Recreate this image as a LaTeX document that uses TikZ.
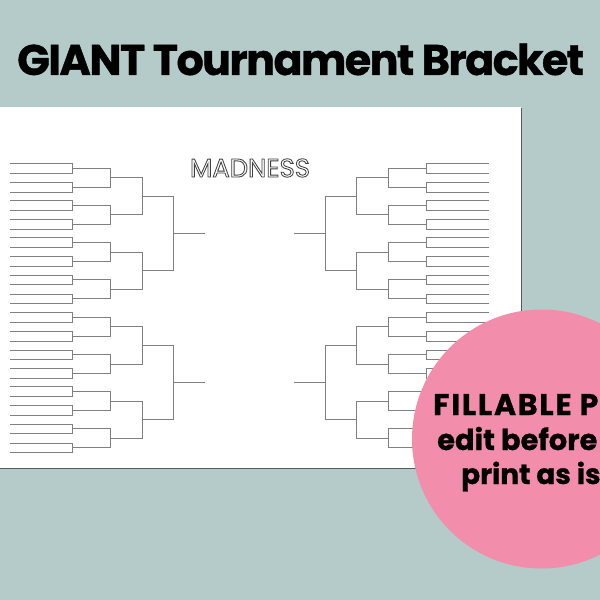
\documentclass[tikz,border=0pt]{standalone}
\usepackage{fontspec}
\setmainfont{Poppins}
\newfontfamily\heavyfont[UprightFont=* Bold,FakeBold=0.9]{Poppins}
\usetikzlibrary{calc}
\definecolor{pagebg}{HTML}{B4CBCA}
\definecolor{badge}{HTML}{F28DAB}
\definecolor{rule}{HTML}{808080}
\newcommand{\outlined}[1]{\special{pdf:code q 1 Tr 0.85 w}#1\special{pdf:code Q}}
\tikzset{
    line/.style={draw=rule, line width=0.8pt},
    title/.style={font=\fontsize{43}{43}\heavyfont, inner sep=0pt, anchor=base west},
    badgetext/.style={font=\fontsize{29}{29}\heavyfont, inner sep=0pt, anchor=base west}
}
\begin{document}
\begin{tikzpicture}[x=1bp,y=-1bp]
    \path[use as bounding box, fill=pagebg] (0,0) rectangle (600,600);
    \clip (0,0) rectangle (600,600);
    \coordinate (sheetA) at (-3,107);
    \coordinate (sheetB) at (521,468);
    \fill[black!55!pagebg] ($(sheetA)+(1,1)$) rectangle ($(sheetB)+(1,1)$);
    \fill[white] (sheetA) rectangle (sheetB);

    \node[title] (heading) at (17,75) {\addfontfeature{LetterSpace=-3.7}GIANT Tournament Bracket};
    \node[inner sep=0pt, font=\fontsize{26}{26}\selectfont, text=black!75] (word) at (250,168) {\outlined{MADNESS}};

    % both sides, columns from the outside in
    \foreach \s/\xa/\xb/\xc/\xd/\xe/\xf in {L/10/72/110.5/142/173.5/204.5, R/488.7/426.3/388.3/356.7/325.3/294}{
        \foreach \k/\a/\b in {1/163.3/173.2,2/182.3/192,3/200.5/210,4/219.5/229,
                              5/237.7/247.3,6/256.7/266.3,7/275/284.3,8/294/303.3,
                              9/312.3/322,10/331.3/341,11/350/359.7,12/368.3/378,
                              13/386.7/396.3,14/405.7/415.3,15/424/433.3,16/443/452.3}{
            \draw[line] (\xa,\a) -- (\xb,\a) -- (\xb,\b) -- (\xa,\b);
            \coordinate (\s a\k) at (\xb,{(\a+\b)/2});
        }
        % second round
        \foreach \k [evaluate=\k as \i using int(2*\k-1), evaluate=\k as \j using int(2*\k)] in {1,...,8}{
            \draw[line] (\s a\i) -- (\s a\i -| \xc,0) -- (\s a\j -| \xc,0) -- (\s a\j);
            \coordinate (\s b\k) at ($(\s a\i -| \xc,0)!.5!(\s a\j -| \xc,0)$);
        }
        % third round
        \foreach \k [evaluate=\k as \i using int(2*\k-1), evaluate=\k as \j using int(2*\k)] in {1,...,4}{
            \draw[line] (\s b\i) -- (\s b\i -| \xd,0) -- (\s b\j -| \xd,0) -- (\s b\j);
            \coordinate (\s c\k) at ($(\s b\i -| \xd,0)!.5!(\s b\j -| \xd,0)$);
        }
        % fourth round and the free ends
        \foreach \k [evaluate=\k as \i using int(2*\k-1), evaluate=\k as \j using int(2*\k)] in {1,2}{
            \draw[line] (\s c\i) -- (\s c\i -| \xe,0) -- (\s c\j -| \xe,0) -- (\s c\j);
            \coordinate (\s d\k) at ($(\s c\i -| \xe,0)!.5!(\s c\j -| \xe,0)$);
            \coordinate (\s e\k) at (\s d\k -| \xf,0);
            \draw[line] (\s d\k) -- (\s e\k);
        }
    }

    \fill[badge] (541.5,439) circle (129.5);
    \node[badgetext, font=\fontsize{30}{30}\heavyfont\addfontfeature{LetterSpace=6}] (fillable) at (433,415) {FILLABLE PDF};
    \node[badgetext] (edit) at (437,450) {edit before};
    \node[badgetext, font=\fontsize{28}{28}\heavyfont] (print) at (461,484) {print as is};
\end{tikzpicture}
\end{document}
